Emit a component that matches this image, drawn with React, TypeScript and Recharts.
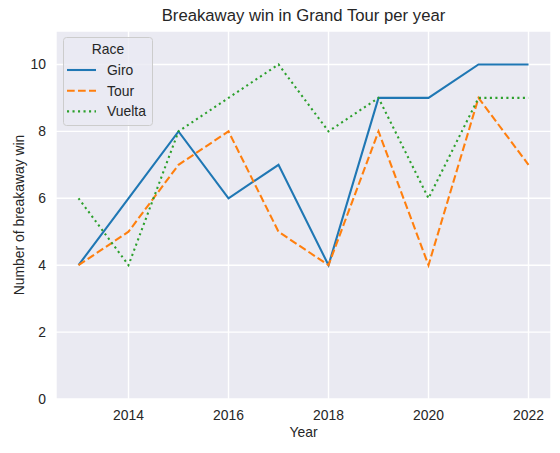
import { LineChart, Line, XAxis, YAxis, CartesianGrid, Legend, Label } from 'recharts'

const years = [2013, 2014, 2015, 2016, 2017, 2018, 2019, 2020, 2021, 2022]
const giro = [4, 6, 8, 6, 7, 4, 9, 9, 10, 10]
const tour = [4, 5, 7, 8, 5, 4, 8, 4, 9, 7]
const vuelta = [6, 4, 8, 9, 10, 8, 9, 6, 9, 9]
const xTicks = [2014, 2016, 2018, 2020, 2022]
const yTicks = [0, 2, 4, 6, 8, 10]

const data = years.map((year, i) => ({ year, Giro: giro[i], Tour: tour[i], Vuelta: vuelta[i] }))

const series = [
  { key: 'Giro', color: '#1f77b4', dash: undefined },
  { key: 'Tour', color: '#ff7f0e', dash: '7.7 3.3' },
  { key: 'Vuelta', color: '#2ca02c', dash: '2.1 3.4' },
]

const font = '"Liberation Sans", Arial, sans-serif'
const ink = '#262626'
const tickStyle = { fontSize: 13.9, fill: ink, fontFamily: font }

const renderLegend = () => (
  <svg width={90} height={89} style={{ display: 'block' }}>
    <rect x={0.5} y={0.5} width={89} height={88} rx={3} fill="#EAEAF2" fillOpacity={0.8} stroke="#cccccc" />
    <text x={45} y={16.5} textAnchor="middle" fontSize={13.9} fill={ink} fontFamily={font}>
      Race
    </text>
    {series.map((s, i) => (
      <g key={s.key}>
        <line
          x1={4}
          x2={33}
          y1={33 + i * 20.7}
          y2={33 + i * 20.7}
          stroke={s.color}
          strokeWidth={2.08}
          strokeDasharray={s.dash}
        />
        <text x={44} y={38 + i * 20.7} fontSize={13.9} fill={ink} fontFamily={font}>
          {s.key}
        </text>
      </g>
    ))}
  </svg>
)

const renderXLabel = (props: any) => {
  const { x, width } = props.viewBox
  return (
    <text x={x + width / 2} y={437} textAnchor="middle" fontSize={13.9} fill={ink} fontFamily={font}>
      Year
    </text>
  )
}

const renderYLabel = (props: any) => {
  const { y, height } = props.viewBox
  const cy = y + height / 2
  return (
    <text
      x={24}
      y={cy}
      transform={`rotate(-90, 24, ${cy})`}
      textAnchor="middle"
      fontSize={13.9}
      fill={ink}
      fontFamily={font}
    >
      Number of breakaway win
    </text>
  )
}

export default function App() {
  return (
    <div style={{ position: 'absolute', left: 0, top: 0, width: 560, height: 453, background: '#fff' }}>
      <svg width={560} height={31} style={{ position: 'absolute', left: 0, top: 0 }}>
        <text x={303.5} y={21} textAnchor="middle" fontSize={16.7} fill={ink} fontFamily={font}>
          Breakaway win in Grand Tour per year
        </text>
      </svg>
      <LineChart width={560} height={453} data={data} margin={{ top: 31, right: 9, bottom: 0, left: 0 }}>
        <CartesianGrid fill="#EAEAF2" stroke="#ffffff" strokeWidth={1.4} />
        <XAxis
          dataKey="year"
          type="number"
          domain={[2012.55, 2022.45]}
          ticks={xTicks}
          height={54}
          axisLine={false}
          tickLine={false}
          tickSize={0}
          tickMargin={11}
          tick={tickStyle}
          label={<Label content={renderXLabel} />}
        />
        <YAxis
          type="number"
          domain={[0, 11]}
          ticks={yTicks}
          width={56}
          axisLine={false}
          tickLine={false}
          tickSize={0}
          tickMargin={10}
          tick={tickStyle}
          label={<Label content={renderYLabel} />}
        />
        <Legend
          layout="vertical"
          align="center"
          verticalAlign="middle"
          content={renderLegend}
          wrapperStyle={{ left: 63, top: 37, width: 90, height: 89 }}
        />
        {series.map((s) => (
          <Line
            key={s.key}
            type="linear"
            dataKey={s.key}
            stroke={s.color}
            strokeWidth={2.08}
            strokeDasharray={s.dash}
            dot={false}
            activeDot={false}
            isAnimationActive={false}
          />
        ))}
      </LineChart>
    </div>
  )
}
